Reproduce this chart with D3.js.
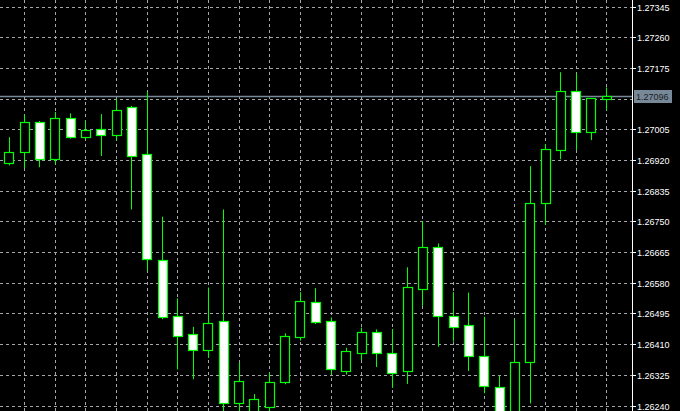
<!DOCTYPE html>
<html>
<head>
<meta charset="utf-8">
<script src="https://cdn.jsdelivr.net/npm/d3@7"></script>
<style>
html,body{margin:0;padding:0;background:#000;overflow:hidden;}
svg{display:block;}
</style>
</head>
<body>
<svg id="chart" width="680" height="411"></svg>
<script>
// ---- data ----
const openP  = [1.26911,1.26943,1.27026,1.26922,1.27037,1.26983,1.27006,1.26988,1.27067,1.26937,
                1.26643,1.26488,1.26437,1.26393,1.26474,1.26248,1.26217,1.26237,1.26305,1.26430,
                1.26526,1.26473,1.26336,1.26387,1.26444,1.26386,1.26335,1.26563,1.26680,1.26489,
                1.26462,1.26378,1.26292,1.26200,1.26361,1.26802,1.26948,1.27112,1.26998,1.27088];
const highP  = [1.26983,1.27045,1.27028,1.27053,1.27049,1.27029,1.27047,1.27089,1.27070,1.27109,
                1.26763,1.26537,1.26458,1.26567,1.26783,1.26359,1.26272,1.26331,1.26440,1.26554,
                1.26565,1.26484,1.26400,1.26456,1.26451,1.26452,1.26623,1.26750,1.26689,1.26554,
                1.26553,1.26486,1.26323,1.26479,1.26903,1.26964,1.27163,1.27160,1.27091,1.27121];
const lowP   = [1.26905,1.26897,1.26900,1.26909,1.26979,1.26977,1.26931,1.26975,1.26783,1.26613,
                1.26479,1.26340,1.26313,1.26372,1.26200,1.26205,1.26205,1.26217,1.26299,1.26420,
                1.26466,1.26326,1.26326,1.26366,1.26347,1.26289,1.26300,1.26516,1.26403,1.26417,
                1.26336,1.26274,1.26186,1.26186,1.26246,1.26740,1.26922,1.26948,1.26975,1.27057];
const closeP = [1.26941,1.27026,1.26922,1.27037,1.26983,1.27003,1.26988,1.27058,1.26932,1.26645,
                1.26486,1.26434,1.26393,1.26469,1.26248,1.26309,1.26259,1.26306,1.26432,1.26529,
                1.26471,1.26340,1.26391,1.26444,1.26387,1.26331,1.26568,1.26679,1.26488,1.26459,
                1.26377,1.26295,1.26200,1.26361,1.26802,1.26950,1.27112,1.26998,1.27091,1.27096];
// grid levels (every 0.00085) and the axis labels that are visible (1.27090 is hidden by the bid label)
const gridLevels = [1.26240,1.26325,1.26410,1.26495,1.26580,1.26665,1.26750,
                    1.26835,1.26920,1.27005,1.27090,1.27175,1.27260,1.27345];
const tickLabels = ["1.26240","1.26325","1.26410","1.26495","1.26580","1.26665","1.26750",
                    "1.26835","1.26920","1.27005","1.27175","1.27260","1.27345"];
const bidPrice = 1.27096;

const candles = openP.map((o,i)=>({i, o, h:highP[i], l:lowP[i], c:closeP[i]}));

const W = 680, H = 411, axisX = 632;
const svg = d3.select("#chart");

const x = d3.scaleLinear().domain([0, candles.length-1]).range([8.8, 606.3]);
const y = d3.scaleLinear().domain([1.26240, 1.27345]).range([405.6, 6.5]);
const crisp = v => Math.round(v) + 0.5;

svg.append("rect").attr("width", W).attr("height", H).attr("fill", "#000");

svg.append("defs").append("clipPath").attr("id","plot")
  .append("rect").attr("x",0).attr("y",0).attr("width",axisX).attr("height",H);

const plot = svg.append("g").attr("clip-path","url(#plot)");

// grid
const gridColor = "#a3a7ab";
plot.append("g").selectAll("line.h").data(gridLevels).join("line")
  .attr("x1", 0).attr("x2", axisX)
  .attr("y1", d=>crisp(y(d))).attr("y2", d=>crisp(y(d)))
  .attr("stroke", gridColor).attr("stroke-width",1).attr("stroke-dasharray","3,3");
const vIdx = d3.range(1, candles.length, 2);
plot.append("g").selectAll("line.v").data(vIdx).join("line")
  .attr("x1", d=>crisp(x(d))).attr("x2", d=>crisp(x(d)))
  .attr("y1", 0).attr("y2", H)
  .attr("stroke", gridColor).attr("stroke-width",1).attr("stroke-dasharray","3,3");

// bid line
plot.append("line")
  .attr("x1",0).attr("x2",axisX)
  .attr("y1",crisp(y(bidPrice))).attr("y2",crisp(y(bidPrice)))
  .attr("stroke","#778899").attr("stroke-width",1.3);

// wicks
const green = "#00ff00";
plot.append("g").selectAll("line.w").data(candles).join("line")
  .attr("x1", d=>crisp(x(d.i))).attr("x2", d=>crisp(x(d.i)))
  .attr("y1", d=>y(d.h)).attr("y2", d=>y(d.l))
  .attr("stroke", green).attr("stroke-width",1);

// bodies
const bw = 9;
plot.append("g").selectAll("rect.b").data(candles).join("rect")
  .attr("x", d=>Math.round(x(d.i)-bw/2)+0.5)
  .attr("y", d=>Math.round(y(Math.max(d.o,d.c)))+0.5)
  .attr("width", bw)
  .attr("height", d=>Math.max(1, Math.round(y(Math.min(d.o,d.c))) - Math.round(y(Math.max(d.o,d.c)))))
  .attr("fill", d=> d.c >= d.o ? "#000" : "#fff")
  .attr("stroke", green).attr("stroke-width",1.2);

// axis
const axisG = svg.append("g");
axisG.append("line").attr("x1",axisX+0.5).attr("x2",axisX+0.5).attr("y1",0).attr("y2",H)
  .attr("stroke","#fff").attr("stroke-width",1);
const ticks = axisG.selectAll("g.t").data(tickLabels).join("g")
  .attr("transform", d=>`translate(0,${crisp(y(+d))})`);
ticks.append("line").attr("x1",axisX).attr("x2",axisX+4).attr("stroke","#fff");
ticks.append("text").attr("x",axisX+5).attr("y",0).attr("dy","0.35em")
  .attr("fill","#fff").attr("font-family","'Liberation Sans', Arial, sans-serif")
  .attr("font-size","9px").text(d=>d);

// bid price label
const by = crisp(y(bidPrice));
svg.append("rect").attr("x",axisX+2).attr("y",by-6.5).attr("width",38).attr("height",13)
  .attr("fill","#778899");
svg.append("text").attr("x",axisX+4).attr("y",by).attr("dy","0.35em")
  .attr("fill","#1b1f24").attr("font-family","'Liberation Sans', Arial, sans-serif")
  .attr("font-size","9px").text(d3.format(".5f")(bidPrice));
</script>
</body>
</html>
